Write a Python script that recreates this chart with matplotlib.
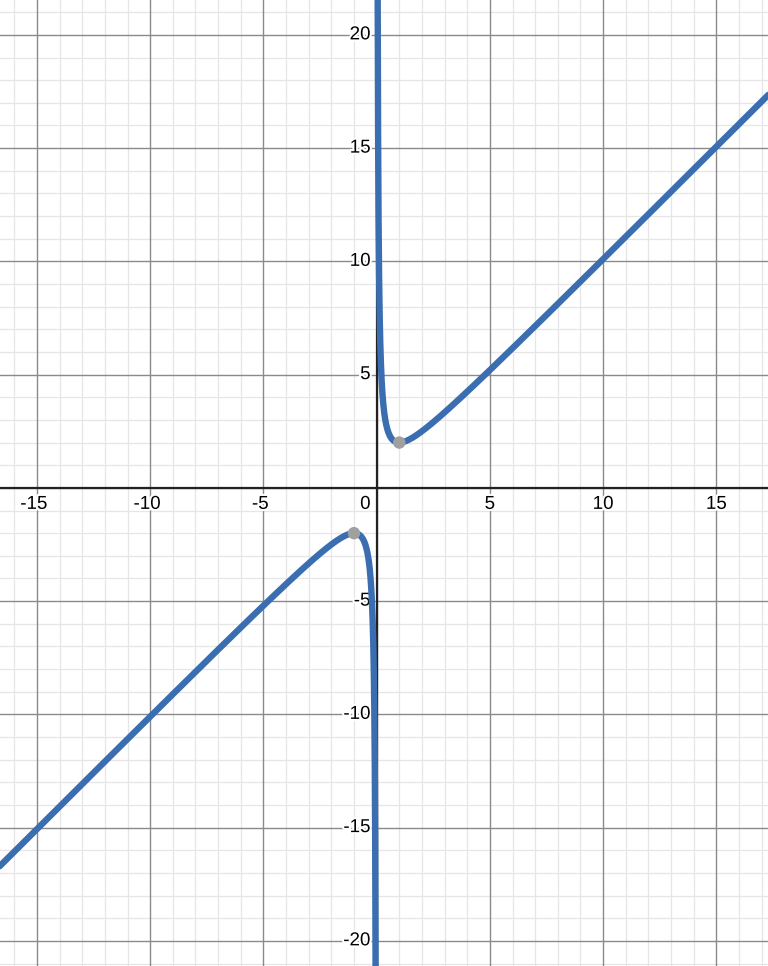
import numpy as np
import matplotlib
matplotlib.use("Agg")
import matplotlib.pyplot as plt
import matplotlib.patheffects as pe

# Function shown: y = a*x + b/x
slope_a = 1.0
inverse_b = 1.0
# Marked extrema (local max / local min)
extrema_x = [-1, 1]
extrema_y = [-2, 2]
x_tick_labels = [-15, -10, -5, 0, 5, 10, 15]
y_tick_labels = [-20, -15, -10, -5, 5, 10, 15, 20]

xlim = (-16.63, 17.28)
ylim = (-21.11, 21.54)

fig = plt.figure(figsize=(7.68, 9.66), dpi=100)
ax = fig.add_axes([0, 0, 1, 1])
ax.set_xlim(*xlim)
ax.set_ylim(*ylim)
for s in ax.spines.values():
    s.set_visible(False)
ax.set_xticks([]); ax.set_yticks([])

# grid
for v in np.arange(-16, 18, 1):
    ax.axvline(v, color="#8a8a8a" if v % 5 == 0 else "#e6e6e6",
               lw=1.0 if v % 5 == 0 else 0.9, zorder=1 if v % 5 == 0 else 0.5)
for v in np.arange(-21, 22, 1):
    ax.axhline(v, color="#8a8a8a" if v % 5 == 0 else "#e6e6e6",
               lw=1.0 if v % 5 == 0 else 0.9, zorder=1 if v % 5 == 0 else 0.5)
ax.axhline(0, color="#222222", lw=1.6, zorder=2)
ax.axvline(0, color="#222222", lw=1.6, zorder=2)

fs = 13.5
halo = [pe.withStroke(linewidth=3, foreground="white")]
for t in x_tick_labels:
    if t == 0:
        ax.annotate("0", (0, 0), xytext=(-6, -8), textcoords="offset pixels",
                    ha="right", va="top", fontsize=fs, family="Liberation Sans",
                    path_effects=halo, zorder=3)
    else:
        ax.annotate(str(t), (t, 0), xytext=(0 if t > 0 else -3, -8), textcoords="offset pixels",
                    ha="center", va="top", fontsize=fs, family="Liberation Sans",
                    path_effects=halo, zorder=3)
for t in y_tick_labels:
    ax.annotate(str(t), (0, t), xytext=(-6, 0), textcoords="offset pixels",
                ha="right", va="center", fontsize=fs, family="Liberation Sans",
                path_effects=halo, zorder=3)

# curve
blue = "#3a6eb0"
xr = np.concatenate([np.geomspace(0.04, 1, 800), np.linspace(1, xlim[1] + 0.5, 800)])
xl = -xr[::-1]
for xs in (xl, xr):
    ax.plot(xs, slope_a * xs + inverse_b / xs, color=blue, lw=4.6,
            solid_capstyle="round", zorder=4)
ax.scatter(extrema_x, extrema_y, s=80, color="#a0a0a0", zorder=5, edgecolors="none")

fig.savefig("out.png", dpi=100)
